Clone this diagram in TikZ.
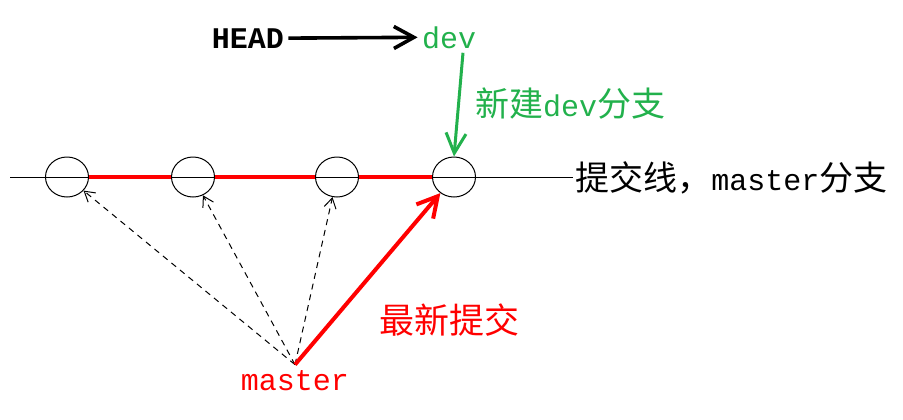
\documentclass[tikz,border=0pt]{standalone}
\usepackage{fontspec}
\setmainfont{Liberation Serif}
\newfontfamily\cjkfont{Noto Sans CJK SC}
\newfontfamily\codefont{Liberation Mono}
\usetikzlibrary{shapes.geometric, arrows.meta, positioning, calc}
\definecolor{gitred}{HTML}{FF0000}
\definecolor{gitgreen}{HTML}{22B14C}
\newcommand{\gitcode}[1]{{\codefont\fontsize{15}{18}\selectfont #1}}

\begin{document}
\begin{tikzpicture}[x=0.5pt, y=-0.5pt,
  commit/.style={ellipse, draw, line width=0.5pt, minimum width=21.5pt, minimum height=20pt, inner sep=0pt},
  oldptr/.style={line width=0.5pt, dash pattern=on 3pt off 2.5pt, -{Straight Barb[length=5pt,width=6pt]}},
  newptr/.style={line width=2pt, gitred, -{Straight Barb[length=10pt,width=11pt]}},
  cjklabel/.style={font=\cjkfont\fontsize{17}{20}\selectfont, inner sep=1pt}
]
  \useasboundingbox (0,0) rectangle (903,419);

  % Commit line
  \node[cjklabel, anchor=west] (linelabel) at (573,178) {提交线，\gitcode{master}分支};
  \coordinate (linestart) at (10,177);
  \draw[line width=0.5pt] (linestart) -- (linestart -| linelabel.west);

  % Commits
  \node[commit] (c1) at (67,177) {};
  \node[commit] (c2) at (193,177) {};
  \node[commit] (c3) at (337,177) {};
  \node[commit] (c4) at (454,177) {};
  \draw[line width=2pt, gitred] (c1.east) -- (c2.west);
  \draw[line width=2pt, gitred] (c2.east) -- (c3.west);
  \draw[line width=2pt, gitred] (c3.east) -- (c4.west);

  % master pointer
  \node[font=\codefont\fontsize{15}{18}\selectfont, gitred, anchor=base, inner sep=2.5pt] (master) at (295,390) {master};
  \draw[oldptr] (master.north) -- (c1);
  \draw[oldptr] (master.north) -- (c2);
  \draw[oldptr] (master.north) -- (c3);
  \draw[newptr] (master.north) -- (c4);
  \node[cjklabel, gitred, font=\cjkfont\fontsize{17.5}{20}\selectfont] (newest) at (449,320) {最新提交};

  % HEAD and dev
  \node[font=\codefont\bfseries\fontsize{15}{18}\selectfont, anchor=base, inner sep=2pt] (head) at (248,48) {HEAD};
  \node[font=\codefont\fontsize{15}{18}\selectfont, gitgreen, anchor=base, inner sep=2pt] (dev) at (449,48) {dev};
  \draw[line width=1.8pt, -{Straight Barb[length=10pt,width=11pt]}] (head.east) -- (dev.west);
  \draw[line width=1.5pt, gitgreen, -{Straight Barb[length=10pt,width=10pt]}] ([xshift=7pt]dev.south) -- (c4.north);
  \node[cjklabel, gitgreen] (newdev) at (570,104) {新建\gitcode{dev}分支};
\end{tikzpicture}
\end{document}
